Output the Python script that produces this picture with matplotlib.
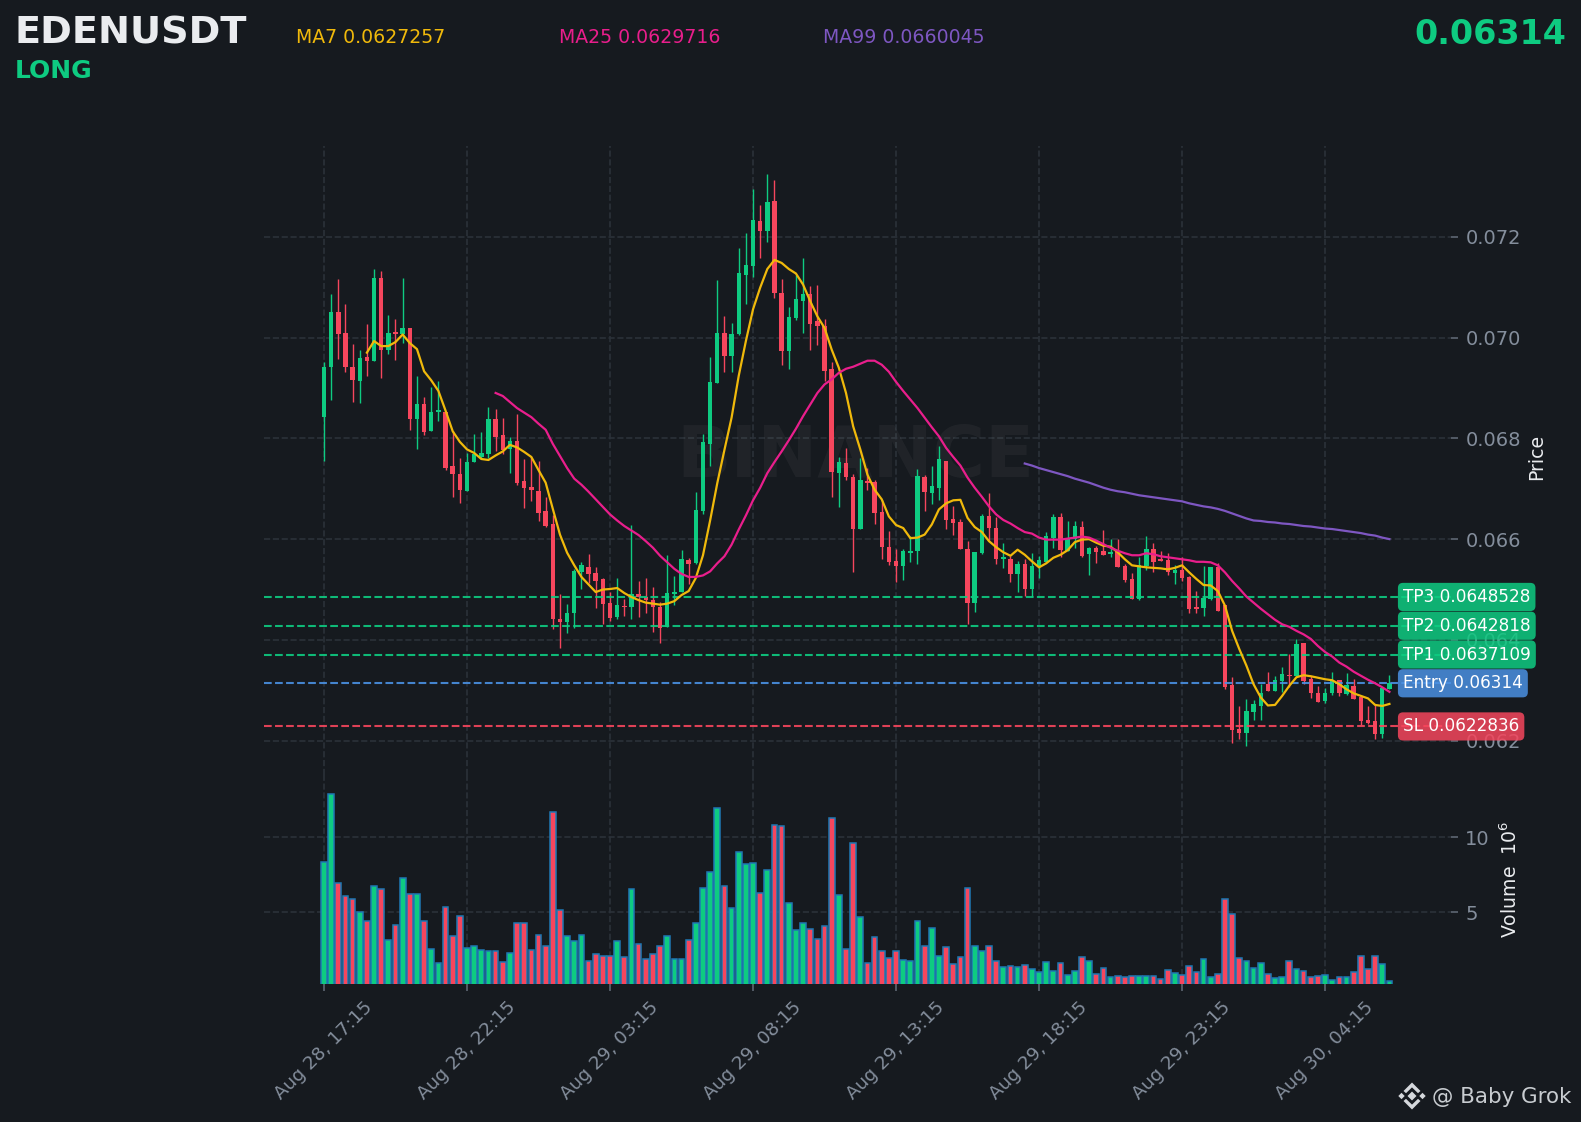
import numpy as np
from matplotlib import pyplot as plt
from matplotlib.patches import Polygon
from matplotlib.transforms import IdentityTransform

W, H = 1581, 1122

bg = '#161a1f'
green = '#0ecb81'
red = '#f6465d'
grid_col = '#2b3139'
tick_col = '#848e9c'
text_col = '#eaecef'

# prices, in units of 0.00001 USDT, one row per 10 candles
opens = [6842, 6941, 7050, 7008, 6942, 6913, 6962, 6953, 7119, 6975,
         7010, 7007, 7018, 6838, 6869, 6814, 6852, 6853, 6746, 6730,
         6696, 6753, 6763, 6768, 6839, 6806, 6778, 6795, 6716, 6704,
         6696, 6655, 6631, 6442, 6436, 6453, 6534, 6544, 6532, 6520,
         6474, 6446, 6468, 6465, 6491, 6486, 6480, 6465, 6425, 6492,
         6495, 6558, 6552, 6655, 6788, 6909, 7008, 6963, 7006, 7125,
         7142, 7232, 7211, 7270, 7089, 6973, 7038, 7073, 7087, 7032,
         7022, 6937, 6732, 6752, 6724, 6620, 6716, 6714, 6653, 6585,
         6556, 6546, 6573, 6576, 6724, 6692, 6702, 6756, 6640, 6633,
         6581, 6473, 6573, 6645, 6623, 6561, 6561, 6530, 6550, 6502,
         6546, 6554, 6603, 6644, 6577, 6600, 6624, 6570, 6583, 6576,
         6570, 6576, 6546, 6521, 6481, 6547, 6581, 6560, 6558, 6533,
         6538, 6525, 6463, 6463, 6481, 6544, 6469, 6310, 6223, 6215,
         6257, 6269, 6312, 6298, 6318, 6330, 6328, 6394, 6322, 6294,
         6279, 6294, 6320, 6292, 6308, 6287, 6241, 6239, 6213, 6302]
highs = [6951, 7087, 7116, 7066, 6987, 6975, 7027, 7135, 7132, 7045,
         7037, 7118, 7018, 6923, 6882, 6901, 6914, 6853, 6814, 6761,
         6770, 6809, 6812, 6862, 6858, 6841, 6803, 6848, 6759, 6763,
         6755, 6684, 6647, 6491, 6472, 6540, 6555, 6571, 6545, 6522,
         6495, 6523, 6482, 6628, 6517, 6523, 6505, 6475, 6568, 6526,
         6579, 6563, 6694, 6809, 6962, 7114, 7042, 7029, 7178, 7208,
         7295, 7263, 7325, 7313, 7116, 7060, 7125, 7158, 7103, 7104,
         7037, 6952, 6763, 6781, 6730, 6761, 6741, 6718, 6677, 6616,
         6581, 6580, 6606, 6739, 6728, 6745, 6784, 6756, 6666, 6640,
         6596, 6575, 6649, 6692, 6644, 6593, 6566, 6556, 6560, 6573,
         6566, 6615, 6649, 6651, 6636, 6635, 6635, 6585, 6587, 6619,
         6600, 6601, 6550, 6532, 6564, 6607, 6593, 6577, 6572, 6548,
         6564, 6526, 6497, 6547, 6544, 6552, 6469, 6326, 6268, 6282,
         6281, 6312, 6337, 6328, 6347, 6372, 6401, 6394, 6328, 6309,
         6304, 6337, 6320, 6334, 6322, 6287, 6269, 6271, 6307, 6330]
lows = [6755, 6876, 6958, 6931, 6872, 6870, 6923, 6953, 6919, 6967,
        6955, 6989, 6816, 6779, 6806, 6814, 6834, 6738, 6683, 6672,
        6696, 6753, 6758, 6761, 6774, 6768, 6731, 6708, 6662, 6676,
        6636, 6624, 6422, 6384, 6414, 6423, 6501, 6513, 6464, 6431,
        6437, 6442, 6447, 6442, 6445, 6454, 6416, 6394, 6425, 6470,
        6495, 6511, 6550, 6650, 6745, 6909, 6932, 6932, 7005, 7067,
        7120, 7157, 7190, 7079, 6946, 6938, 7034, 7008, 6976, 6986,
        6913, 6683, 6664, 6717, 6535, 6620, 6697, 6630, 6561, 6549,
        6515, 6519, 6554, 6551, 6655, 6669, 6677, 6620, 6608, 6580,
        6431, 6455, 6570, 6599, 6550, 6542, 6515, 6495, 6487, 6486,
        6523, 6552, 6583, 6564, 6577, 6583, 6565, 6529, 6552, 6568,
        6565, 6544, 6514, 6481, 6480, 6538, 6534, 6556, 6528, 6511,
        6516, 6454, 6453, 6448, 6480, 6457, 6302, 6195, 6203, 6190,
        6242, 6242, 6298, 6298, 6296, 6306, 6328, 6312, 6284, 6276,
        6275, 6290, 6288, 6290, 6283, 6231, 6233, 6204, 6206, 6302]
closes = [6942, 7050, 7007, 6941, 6915, 6960, 6953, 7119, 6975, 7008,
          7007, 7018, 6838, 6869, 6812, 6853, 6857, 6742, 6729, 6697,
          6754, 6768, 6770, 6839, 6802, 6776, 6795, 6712, 6701, 6697,
          6651, 6627, 6441, 6436, 6454, 6536, 6548, 6530, 6516, 6471,
          6444, 6470, 6465, 6491, 6485, 6479, 6465, 6423, 6494, 6496,
          6561, 6550, 6657, 6792, 6911, 7008, 6963, 7006, 7129, 7143,
          7234, 7211, 7268, 7088, 6973, 7040, 7077, 7087, 7026, 7022,
          6933, 6734, 6754, 6724, 6620, 6718, 6712, 6651, 6584, 6554,
          6546, 6577, 6577, 6726, 6694, 6706, 6758, 6638, 6632, 6581,
          6473, 6575, 6645, 6623, 6560, 6563, 6530, 6550, 6502, 6546,
          6558, 6606, 6644, 6578, 6600, 6626, 6566, 6583, 6574, 6568,
          6574, 6544, 6519, 6481, 6548, 6580, 6554, 6556, 6535, 6538,
          6523, 6461, 6462, 6483, 6544, 6457, 6306, 6221, 6215, 6259,
          6273, 6294, 6298, 6320, 6332, 6328, 6392, 6318, 6294, 6277,
          6294, 6320, 6294, 6310, 6283, 6239, 6235, 6213, 6304, 6314]

# volume in millions
volumes = [8.31, 12.84, 6.96, 6.09, 5.84, 5.02, 4.42, 6.76, 6.51, 3.16,
           4.11, 7.29, 6.22, 6.22, 4.42, 2.56, 1.62, 5.31, 3.42, 4.71,
           2.62, 2.76, 2.49, 2.42, 2.42, 1.69, 2.29, 4.29, 4.29, 2.49,
           3.49, 2.76, 11.69, 5.16, 3.42, 3.09, 3.49, 1.76, 2.22, 2.09,
           2.09, 3.09, 2.02, 6.56, 2.89, 1.89, 2.22, 2.76, 3.42, 1.89,
           1.89, 3.16, 4.29, 6.62, 7.69, 11.96, 6.76, 5.29, 9.02, 8.22,
           8.29, 6.29, 7.82, 10.82, 10.76, 5.62, 3.82, 4.29, 3.89, 3.22,
           4.09, 11.29, 6.16, 2.56, 9.62, 4.69, 1.62, 3.36, 2.42, 1.96,
           2.42, 1.82, 1.76, 4.42, 2.76, 3.96, 2.09, 2.69, 1.56, 2.02,
           6.62, 2.76, 2.42, 2.76, 1.76, 1.36, 1.42, 1.36, 1.49, 1.22,
           1.02, 1.69, 1.09, 1.62, 0.82, 1.09, 2.02, 1.76, 0.89, 1.29,
           0.69, 0.76, 0.69, 0.76, 0.76, 0.76, 0.76, 0.56, 1.16, 0.96,
           0.82, 1.42, 1.02, 1.89, 0.69, 0.89, 5.84, 4.89, 1.96, 1.76,
           1.29, 1.62, 0.89, 0.62, 0.69, 1.76, 1.22, 1.09, 0.69, 0.76,
           0.82, 0.49, 0.69, 0.69, 1.02, 2.09, 1.22, 2.09, 1.56, 0.42]

# moving averages as drawn, the lists end at the last candle
ma7 = [6970, 6993, 6983, 6983,
       6991, 7006, 6989, 6977, 6933, 6915, 6894, 6855, 6814, 6793,
       6778, 6771, 6759, 6757, 6766, 6774, 6787, 6782, 6773, 6763,
       6737, 6712, 6660, 6609, 6573, 6548, 6525, 6510, 6495, 6500,
       6501, 6503, 6493, 6485, 6479, 6474, 6472, 6470, 6472, 6477,
       6489, 6497, 6523, 6568, 6637, 6711, 6777, 6841, 6924, 6993,
       7056, 7099, 7136, 7154, 7148, 7136, 7127, 7105, 7072, 7042,
       7019, 6976, 6940, 6890, 6824, 6778, 6728, 6698, 6679, 6645,
       6628, 6622, 6602, 6603, 6609, 6629, 6659, 6671, 6677, 6678,
       6642, 6624, 6614, 6596, 6584, 6574, 6567, 6579, 6569, 6556,
       6544, 6552, 6563, 6569, 6578, 6594, 6599, 6600, 6593, 6587,
       6585, 6574, 6560, 6548, 6546, 6544, 6543, 6542, 6540, 6543,
       6548, 6534, 6521, 6509, 6508, 6497, 6468, 6418, 6382, 6349,
       6312, 6286, 6270, 6271, 6289, 6309, 6326, 6330, 6328, 6325,
       6322, 6320, 6312, 6302, 6294, 6289, 6284, 6271, 6269, 6273]
ma25 = [6890, 6884, 6872, 6860, 6851, 6842,
        6829, 6817, 6789, 6765, 6741, 6720, 6708, 6694, 6679, 6664,
        6649, 6637, 6626, 6617, 6608, 6596, 6583, 6567, 6554, 6541,
        6531, 6525, 6525, 6528, 6536, 6552, 6566, 6589, 6619, 6647,
        6677, 6702, 6731, 6753, 6774, 6796, 6819, 6844, 6867, 6890,
        6907, 6917, 6930, 6938, 6942, 6948, 6954, 6954, 6946, 6932,
        6912, 6894, 6877, 6860, 6841, 6822, 6804, 6781, 6763, 6746,
        6722, 6702, 6684, 6665, 6649, 6638, 6631, 6622, 6614, 6611,
        6603, 6599, 6599, 6599, 6601, 6603, 6605, 6603, 6597, 6590,
        6583, 6577, 6572, 6568, 6568, 6572, 6570, 6566, 6564, 6562,
        6560, 6558, 6555, 6555, 6554, 6548, 6534, 6517, 6502, 6486,
        6474, 6462, 6451, 6440, 6431, 6426, 6418, 6411, 6402, 6388,
        6376, 6367, 6355, 6347, 6337, 6329, 6321, 6314, 6306, 6297]
ma99 = [6750, 6746,
        6741, 6737, 6733, 6729, 6725, 6720, 6716, 6712, 6707, 6702,
        6698, 6695, 6693, 6690, 6687, 6685, 6683, 6681, 6679, 6677,
        6675, 6671, 6668, 6665, 6663, 6660, 6656, 6651, 6646, 6641,
        6637, 6636, 6634, 6633, 6631, 6630, 6628, 6626, 6625, 6623,
        6621, 6620, 6618, 6616, 6614, 6612, 6609, 6607, 6603, 6600]

xtick_pos = [0, 20, 40, 60, 80, 100, 120, 140]
xtick_labels = ['Aug 28, 17:15', 'Aug 28, 22:15', 'Aug 29, 03:15', 'Aug 29, 08:15',
                'Aug 29, 13:15', 'Aug 29, 18:15', 'Aug 29, 23:15', 'Aug 30, 04:15']
price_ticks = [0.062, 0.064, 0.066, 0.068, 0.070, 0.072]
volume_ticks = [5, 10]

level_names = ['TP3 0.0648528', 'TP2 0.0642818', 'TP1 0.0637109', 'Entry 0.06314', 'SL 0.0622836']
level_prices = [0.0648528, 0.0642818, 0.0637109, 0.06314, 0.0622836]
level_colors = [green, green, green, '#4a90e2', red]

o = np.array(opens) * 1e-5
h = np.array(highs) * 1e-5
l = np.array(lows) * 1e-5
c = np.array(closes) * 1e-5
x = np.arange(len(c))
cols = [green if c[i] >= o[i] else red for i in x]

fig = plt.figure(figsize=(W / 100, H / 100), dpi=100, facecolor=bg)

# panel boxes come from the pixel layout of the picture, 3:1 split
left, right, top, split, bottom = 264, 1451, 146, 774.5, 984
ax = fig.add_axes([left / W, 1 - split / H, (right - left) / W, (split - top) / H], facecolor=bg)
ax2 = fig.add_axes([left / W, 1 - bottom / H, (right - left) / W, (bottom - split) / H], facecolor=bg, sharex=ax)

ax.vlines(x, l, h, colors=cols, linewidth=1.0, zorder=3)
ax.bar(x, np.maximum(np.abs(c - o), 0.00003), bottom=np.minimum(o, c), width=0.62, color=cols, zorder=3)

ax.plot(x[-len(ma7):], np.array(ma7) * 1e-5, color='#f0b90b', lw=1.6, zorder=5)
ax.plot(x[-len(ma25):], np.array(ma25) * 1e-5, color='#e91e8c', lw=1.6, zorder=5)
ax.plot(x[-len(ma99):], np.array(ma99) * 1e-5, color='#7e57c2', lw=1.6, zorder=5)

ax.set_xlim(-8.39, 157.61)
ax.set_ylim(0.06133, 0.0738)
ax.set_yticks(price_ticks)
ax.set_yticklabels(['%.3f' % p for p in price_ticks])

ax2.bar(x, volumes, width=0.8, color=cols, edgecolor='#1f78b4', linewidth=1.1, zorder=3)
ax2.set_ylim(0.2, 14.17)
ax2.set_yticks(volume_ticks)
ax2.set_xticks(xtick_pos)
ax2.set_xticklabels(xtick_labels, rotation=45, ha='center')

for a in (ax, ax2):
    a.set_facecolor(bg)
    for s in a.spines.values():
        s.set_visible(False)
    a.yaxis.tick_right()
    a.yaxis.set_label_position('right')
    a.grid(True, color=grid_col, linestyle='--', linewidth=1.2, zorder=0)
    a.set_axisbelow(True)
    a.tick_params(axis='both', colors='#5e6673', labelcolor=tick_col, labelsize=14,
                  length=4.8, width=1.2, pad=5.5)
ax.tick_params(axis='x', length=0, labelbottom=False)
ax2.tick_params(axis='x', pad=5.5, labelsize=13.3)

ax.set_ylabel('Price', color=text_col, fontsize=13.6)
ax.yaxis.set_label_coords((1527 - left) / (right - left), 0.505)
ax2.set_ylabel('Volume  $10^{6}$', color=text_col, fontsize=13.6)
ax2.yaxis.set_label_coords((1500 - left) / (right - left), 0.5)

# target / stop lines with their tags over the axis labels
lab_x = (1403 - left) / (right - left)
for name, p, col in zip(level_names, level_prices, level_colors):
    ax.axhline(p, color=col, linestyle='--', linewidth=1.5, alpha=0.9, zorder=4)
    ax.text(lab_x, p, name, transform=ax.get_yaxis_transform(), color='white', fontsize=12.2,
            va='center', ha='left', clip_on=False, zorder=10,
            bbox=dict(boxstyle='round,pad=0.3', facecolor=col, edgecolor='none', alpha=0.85))

ax.text(855 / W, 1 - 458 / H, 'BINANCE', transform=fig.transFigure, color='white', alpha=0.045,
        fontsize=51.5, fontweight='bold', ha='center', va='center', zorder=1)

# header
fig.text(15 / W, 1 - 43.5 / H, 'EDENUSDT', color=text_col, fontsize=27.5, fontweight='bold', va='baseline')
fig.text(15 / W, 1 - 78 / H, 'LONG', color=green, fontsize=18, fontweight='bold', va='baseline')
fig.text(295.5 / W, 1 - 43 / H, 'MA7 0.0627257', color='#f0b90b', fontsize=13.6, va='baseline')
fig.text(559 / W, 1 - 43 / H, 'MA25 0.0629716', color='#e91e8c', fontsize=13.6, va='baseline')
fig.text(823 / W, 1 - 43 / H, 'MA99 0.0660045', color='#7e57c2', fontsize=13.6, va='baseline')
fig.text(1566 / W, 1 - 43.5 / H, '0.06314', color=green, fontsize=24, fontweight='bold', ha='right', va='baseline')


# binance logo, pixel coords with y flipped
def logo_piece(pts):
    pts = [(1412 + px, H - (1096 + py)) for px, py in pts]
    fig.add_artist(Polygon(pts, closed=True, facecolor='#d5d8dc', edgecolor='none', transform=IdentityTransform()))


logo_piece([(0, -4.5), (4.5, 0), (0, 4.5), (-4.5, 0)])
logo_piece([(-10.5, -3.2), (-7.3, 0), (-10.5, 3.2), (-13.7, 0)])
logo_piece([(10.5, -3.2), (13.7, 0), (10.5, 3.2), (7.3, 0)])
logo_piece([(0, -13.5), (8.5, -5), (6, -2.8), (0, -8.6), (-6, -2.8), (-8.5, -5)])
logo_piece([(0, 13.5), (8.5, 5), (6, 2.8), (0, 8.6), (-6, 2.8), (-8.5, 5)])
fig.text(1432 / W, 1 - 1103 / H, '@ Baby Grok', color='#c8ccd0', fontsize=15.4, va='baseline')

fig.savefig('out.png', dpi=100, facecolor=bg)
